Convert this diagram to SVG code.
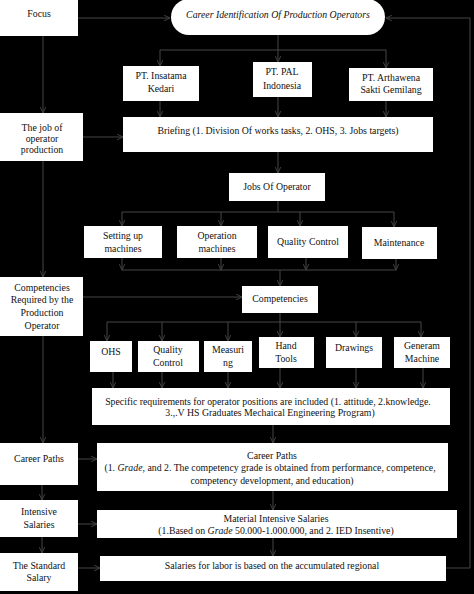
<svg xmlns="http://www.w3.org/2000/svg" width="474" height="594" viewBox="0 0 474 594">
<style>
.bg{fill:#000}
.box{fill:#fff;stroke:none}
.t{font-family:"Liberation Serif","Times New Roman",serif;font-size:9.8px;fill:#111;text-anchor:middle}
.it{font-style:italic}
.c{fill:none;stroke:#464646;stroke-width:1}
</style>
<defs>
<marker id="a" viewBox="0 0 10 10" refX="9.5" refY="5" markerWidth="7" markerHeight="7" orient="auto" markerUnits="userSpaceOnUse">
<path d="M1,1 L9.5,5 L1,9" fill="none" stroke="#464646" stroke-width="1.3"/>
</marker>
</defs>
<rect class="bg" x="0" y="0" width="474" height="594"/>
<g id="connectors">
<path class="c" d="M78,18 H170" marker-end="url(#a)"/>
<path class="c" d="M446,568 H470 V18 H386" marker-end="url(#a)"/>
<path class="c" d="M278,35 V50 M160,50 H386"/>
<path class="c" d="M160,50 V66" marker-end="url(#a)"/>
<path class="c" d="M278,50 V62" marker-end="url(#a)"/>
<path class="c" d="M386,50 V68" marker-end="url(#a)"/>
<path class="c" d="M160,101 V117" marker-end="url(#a)"/>
<path class="c" d="M278,97 V117" marker-end="url(#a)"/>
<path class="c" d="M386,101 V117" marker-end="url(#a)"/>
<path class="c" d="M43,36 V113" marker-end="url(#a)"/>
<path class="c" d="M43,161 V277" marker-end="url(#a)"/>
<path class="c" d="M43,336 V443" marker-end="url(#a)"/>
<path class="c" d="M42,485 V500" marker-end="url(#a)"/>
<path class="c" d="M42,537 V553" marker-end="url(#a)"/>
<path class="c" d="M83,137 H123" marker-end="url(#a)"/>
<path class="c" d="M278,152 V173" marker-end="url(#a)"/>
<path class="c" d="M278,201 V212 M122,212 H394"/>
<path class="c" d="M122,212 V226" marker-end="url(#a)"/>
<path class="c" d="M221,212 V226" marker-end="url(#a)"/>
<path class="c" d="M300,212 V226" marker-end="url(#a)"/>
<path class="c" d="M394,212 V227" marker-end="url(#a)"/>
<path class="c" d="M122,258 V270" marker-end="url(#a)"/>
<path class="c" d="M221,258 V270" marker-end="url(#a)"/>
<path class="c" d="M306,258 V270" marker-end="url(#a)"/>
<path class="c" d="M396,259 V270" marker-end="url(#a)"/>
<path class="c" d="M122,270 H396"/>
<path class="c" d="M280,270 V286" marker-end="url(#a)"/>
<path class="c" d="M83,297 H242" marker-end="url(#a)"/>
<path class="c" d="M280,313 V322 M107,322 H421"/>
<path class="c" d="M107,322 V341" marker-end="url(#a)"/>
<path class="c" d="M162,322 V341" marker-end="url(#a)"/>
<path class="c" d="M228,322 V341" marker-end="url(#a)"/>
<path class="c" d="M280,322 V337" marker-end="url(#a)"/>
<path class="c" d="M356,322 V337" marker-end="url(#a)"/>
<path class="c" d="M421,322 V337" marker-end="url(#a)"/>
<path class="c" d="M113,372 V388" marker-end="url(#a)"/>
<path class="c" d="M162,372 V388" marker-end="url(#a)"/>
<path class="c" d="M228,372 V388" marker-end="url(#a)"/>
<path class="c" d="M280,368 V388" marker-end="url(#a)"/>
<path class="c" d="M356,368 V388" marker-end="url(#a)"/>
<path class="c" d="M423,368 V388" marker-end="url(#a)"/>
<path class="c" d="M273,425 V443" marker-end="url(#a)"/>
<path class="c" d="M78,459 H97" marker-end="url(#a)"/>
<path class="c" d="M273,491 V510" marker-end="url(#a)"/>
<path class="c" d="M78,524 H97" marker-end="url(#a)"/>
<path class="c" d="M273,538 V556" marker-end="url(#a)"/>
<path class="c" d="M78,568 H100" marker-end="url(#a)"/>
</g>
<g id="focus"><rect class="box" x="0" y="0" width="78" height="36"/><text class="t" x="39" y="17">Focus</text></g>
<g id="career-id"><rect class="box" x="171" y="-1" width="214" height="36" rx="18"/><text class="t it" x="278" y="18">Career Identification Of Production Operators</text></g>
<g id="pt-insatama"><rect class="box" x="123" y="66" width="76" height="35"/><text class="t" x="161" y="79">PT. Insatama</text><text class="t" x="161" y="92">Kedari</text></g>
<g id="pt-pal"><rect class="box" x="253" y="62" width="59" height="35"/><text class="t" x="282" y="75">PT. PAL</text><text class="t" x="282" y="89">Indonesia</text></g>
<g id="pt-arthawena"><rect class="box" x="349" y="68" width="84" height="33"/><text class="t" x="391" y="81">PT. Arthawena</text><text class="t" x="391" y="93">Sakti Gemilang</text></g>
<g id="job-production"><rect class="box" x="0" y="113" width="83" height="48"/><text class="t" x="42" y="131">The job of</text><text class="t" x="42" y="142">operator</text><text class="t" x="42" y="153">production</text></g>
<g id="briefing"><rect class="box" x="123" y="117" width="310" height="35"/><text class="t" x="278" y="134">Briefing (1. Division Of works tasks, 2. OHS, 3. Jobs targets)</text></g>
<g id="jobs-operator"><rect class="box" x="229" y="173" width="96" height="28"/><text class="t" x="277" y="190">Jobs Of Operator</text></g>
<g id="setting-up"><rect class="box" x="84" y="226" width="78" height="32"/><text class="t" x="123" y="239">Setting up</text><text class="t" x="123" y="252">machines</text></g>
<g id="operation"><rect class="box" x="177" y="226" width="80" height="32"/><text class="t" x="217" y="239">Operation</text><text class="t" x="217" y="252">machines</text></g>
<g id="quality-control-job"><rect class="box" x="268" y="226" width="80" height="32"/><text class="t" x="308" y="245">Quality Control</text></g>
<g id="maintenance"><rect class="box" x="362" y="227" width="75" height="32"/><text class="t" x="399" y="246">Maintenance</text></g>
<g id="competencies-required"><rect class="box" x="0" y="277" width="83" height="59"/><text class="t" x="42" y="291">Competencies</text><text class="t" x="42" y="303">Required by the</text><text class="t" x="42" y="316">Production</text><text class="t" x="42" y="329">Operator</text></g>
<g id="competencies"><rect class="box" x="242" y="286" width="76" height="27"/><text class="t" x="280" y="302">Competencies</text></g>
<g id="ohs"><rect class="box" x="90" y="341" width="42" height="31"/><text class="t" x="111" y="355">OHS</text></g>
<g id="quality-control"><rect class="box" x="138" y="341" width="61" height="31"/><text class="t" x="168" y="353">Quality</text><text class="t" x="168" y="366">Control</text></g>
<g id="measuring"><rect class="box" x="204" y="341" width="48" height="31"/><text class="t" x="228" y="353">Measuri</text><text class="t" x="228" y="366">ng</text></g>
<g id="hand-tools"><rect class="box" x="259" y="337" width="55" height="31"/><text class="t" x="286" y="349">Hand</text><text class="t" x="286" y="362">Tools</text></g>
<g id="drawings"><rect class="box" x="326" y="337" width="56" height="31"/><text class="t" x="354" y="351">Drawings</text></g>
<g id="generam"><rect class="box" x="394" y="337" width="56" height="31"/><text class="t" x="422" y="349">Generam</text><text class="t" x="422" y="362">Machine</text></g>
<g id="specific"><rect class="box" x="92" y="388" width="358" height="37"/><text class="t" x="268" y="405">Specific requirements for operator positions are included (1. attitude, 2.knowledge.</text><text class="t" x="270" y="416">3.,.V HS Graduates Mechaical Engineering Program)</text></g>
<g id="career-paths-left"><rect class="box" x="0" y="443" width="78" height="42"/><text class="t" x="39" y="462">Career Paths</text></g>
<g id="career-paths"><rect class="box" x="97" y="443" width="351" height="48"/><text class="t" x="272" y="459">Career Paths</text><text class="t" x="270" y="471">(1. <tspan class="it">Grade</tspan>, and 2. The competency grade is obtained from performance, competence,</text><text class="t" x="272" y="484">competency development, and education)</text></g>
<g id="intensive-left"><rect class="box" x="0" y="500" width="78" height="37"/><text class="t" x="39" y="515">Intensive</text><text class="t" x="39" y="528">Salaries</text></g>
<g id="material"><rect class="box" x="97" y="510" width="360" height="28"/><text class="t" x="276" y="522">Material Intensive Salaries</text><text class="t" x="276" y="534">(1.Based on <tspan class="it">Grade</tspan> 50.000-1.000.000,  and 2. IED Insentive)</text></g>
<g id="standard-left"><rect class="box" x="0" y="553" width="78" height="38"/><text class="t" x="39" y="569">The Standard</text><text class="t" x="39" y="581">Salary</text></g>
<g id="salaries"><rect class="box" x="100" y="556" width="346" height="25"/><text class="t" x="272" y="569">Salaries for labor is based on the accumulated regional</text></g>
</svg>
